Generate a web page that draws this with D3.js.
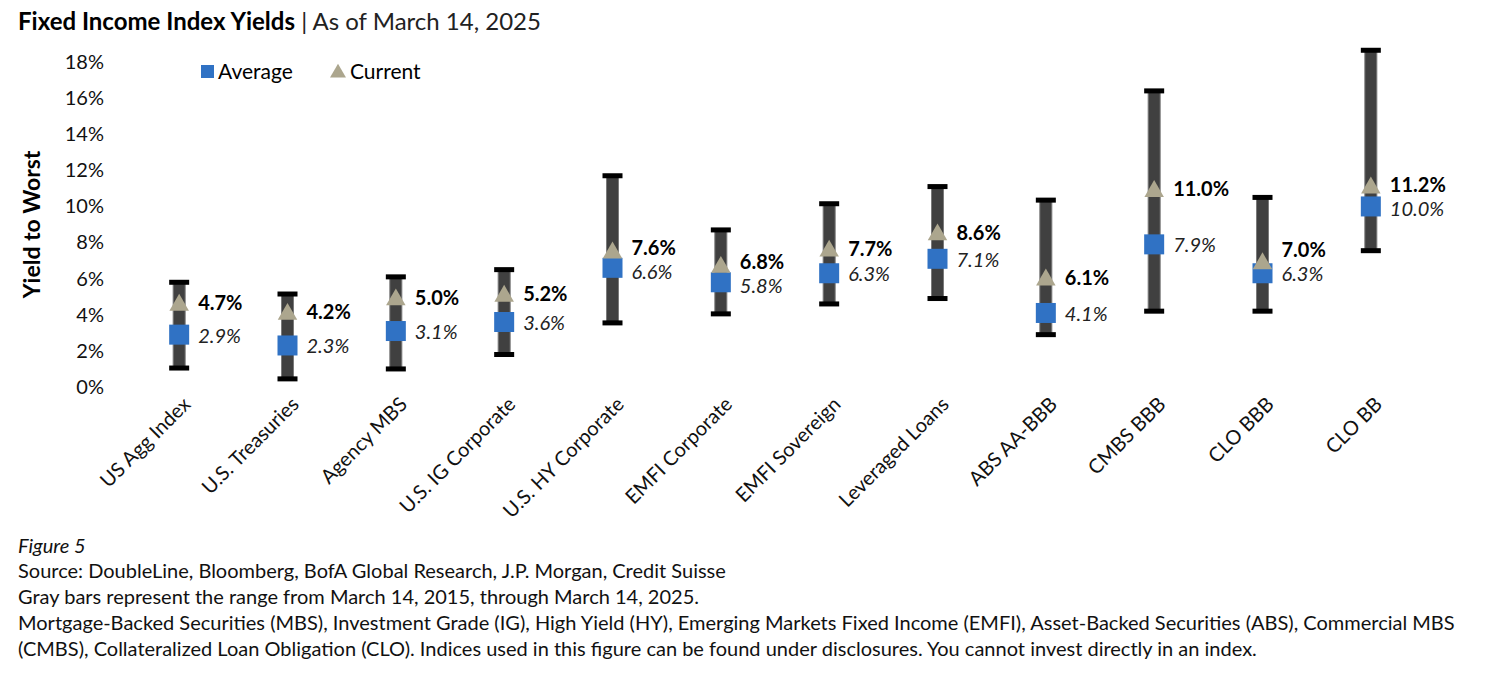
<!DOCTYPE html>
<html>
<head>
<meta charset="utf-8">
<script src="https://cdn.jsdelivr.net/npm/d3@7"></script>
<style>
  body { margin: 0; background: #fff; }
  svg { font-family: Lato, "Open Sans", sans-serif; }
</style>
</head>
<body>
<script>
const categories = ["US Agg Index", "U.S. Treasuries", "Agency MBS", "U.S. IG Corporate",
  "U.S. HY Corporate", "EMFI Corporate", "EMFI Sovereign", "Leveraged Loans",
  "ABS AA-BBB", "CMBS BBB", "CLO BBB", "CLO BB"];
const rangeHigh = [5.8, 5.15, 6.1, 6.5, 11.7, 8.7, 10.15, 11.1, 10.35, 16.4, 10.5, 18.65];
const rangeLow = [1.05, 0.45, 1.0, 1.8, 3.55, 4.05, 4.6, 4.9, 2.9, 4.2, 4.2, 7.55];
const averages = [2.9, 2.3, 3.1, 3.6, 6.6, 5.8, 6.3, 7.1, 4.1, 7.9, 6.3, 10.0];
const currents = [4.7, 4.2, 5.0, 5.2, 7.6, 6.8, 7.7, 8.6, 6.1, 11.0, 7.0, 11.2];
const yTicks = [0, 2, 4, 6, 8, 10, 12, 14, 16, 18];
const footnotes = [
  "Source: DoubleLine, Bloomberg, BofA Global Research, J.P. Morgan, Credit Suisse",
  "Gray bars represent the range from March 14, 2015, through March 14, 2025.",
  "Mortgage-Backed Securities (MBS), Investment Grade (IG), High Yield (HY), Emerging Markets Fixed Income (EMFI), Asset-Backed Securities (ABS), Commercial MBS",
  "(CMBS), Collateralized Loan Obligation (CLO). Indices used in this figure can be found under disclosures. You cannot invest directly in an index."
];

const width = 1490, height = 676;
const margin = ({ top: 62, right: 65, bottom: 289, left: 125 });

const data = categories.map((c, i) => ({
  name: c, lo: rangeLow[i], hi: rangeHigh[i], avg: averages[i], cur: currents[i]
}));

const blue = "#3072c4", tan = "#aca68e";
const fs = 20;

const svg = d3.select("body").append("svg")
  .attr("width", width).attr("height", height)
  .attr("viewBox", [0, 0, width, height]);

const x = d3.scaleBand()
  .domain(categories)
  .range([margin.left, width - margin.right]);

const y = d3.scaleLinear()
  .domain([0, 18])
  .range([height - margin.bottom, margin.top]);

// title
const title = svg.append("text").attr("x", 18).attr("y", 30).attr("font-size", 24);
title.append("tspan").attr("font-weight", "bold").text("Fixed Income Index Yields");
title.append("tspan").attr("fill", "#222").text(" | As of March 14, 2025");

// y axis
const yAxis = g => g
  .attr("transform", `translate(${margin.left - 21},0)`)
  .call(d3.axisLeft(y).tickValues(yTicks).tickFormat(d => d + "%").tickSize(0).tickPadding(0))
  .call(g => g.select(".domain").remove())
  .call(g => g.selectAll("text").attr("font-size", fs).attr("font-family", "Lato, sans-serif").attr("fill", "#111"));
svg.append("g").call(yAxis);

svg.append("text")
  .attr("transform", `translate(40,${(y(0) + y(18)) / 2}) rotate(-90)`)
  .attr("text-anchor", "middle")
  .attr("font-size", 23).attr("font-weight", "bold")
  .text("Yield to Worst");

// x axis labels
const xAxis = g => g
  .attr("transform", `translate(0,${y(0) + 8})`)
  .call(d3.axisBottom(x).tickSize(0).tickPadding(0))
  .call(g => g.select(".domain").remove())
  .call(g => g.selectAll("text")
    .attr("font-size", fs).attr("font-family", "Lato, sans-serif").attr("fill", "#111")
    .attr("text-anchor", "end")
    .attr("dy", "0.75em")
    .attr("transform", "translate(2,0) rotate(-45)"));
svg.append("g").call(xAxis);

const cx = d => x(d.name) + x.bandwidth() / 2;

// range bars
const g = svg.append("g");
g.selectAll("rect.bar").data(data).join("rect")
  .attr("class", "bar")
  .attr("x", d => cx(d) - 6).attr("width", 12)
  .attr("y", d => y(d.hi)).attr("height", d => y(d.lo) - y(d.hi))
  .attr("fill", "#404040").attr("stroke", "#7a7a7a").attr("stroke-width", 1);

g.selectAll("rect.capHi").data(data).join("rect")
  .attr("class", "capHi")
  .attr("x", d => cx(d) - 10).attr("width", 20)
  .attr("y", d => y(d.hi) - 2.5).attr("height", 5)
  .attr("fill", "#000");

g.selectAll("rect.capLo").data(data).join("rect")
  .attr("class", "capLo")
  .attr("x", d => cx(d) - 10).attr("width", 20)
  .attr("y", d => y(d.lo) - 2.5).attr("height", 5)
  .attr("fill", "#000");

// markers
g.selectAll("rect.avg").data(data).join("rect")
  .attr("class", "avg")
  .attr("x", d => cx(d) - 10).attr("width", 20)
  .attr("y", d => y(d.avg) - 10).attr("height", 20)
  .attr("fill", blue);

const tri = d3.symbol().type(d3.symbolTriangle).size(165);
g.selectAll("path.cur").data(data).join("path")
  .attr("class", "cur")
  .attr("transform", d => `translate(${cx(d)},${y(d.cur) + 3})`)
  .attr("d", tri)
  .attr("fill", tan);

// value labels: keep the two labels of a bar apart
const minGap = 24;
const gap = d => y(d.avg) - y(d.cur);
const curLabelY = d => gap(d) < 16 ? y(d.avg) - minGap : (gap(d) < minGap ? y(d.cur) - (minGap - gap(d)) / 2 : y(d.cur));
const avgLabelY = d => gap(d) >= 16 && gap(d) < minGap ? y(d.avg) + (minGap - gap(d)) / 2 : y(d.avg);

g.selectAll("text.curLbl").data(data).join("text")
  .attr("class", "curLbl")
  .attr("x", d => cx(d) + 19).attr("y", d => curLabelY(d) + 1)
  .attr("dy", "0.35em")
  .attr("font-size", fs).attr("font-weight", "bold")
  .text(d => d.cur.toFixed(1) + "%");

g.selectAll("text.avgLbl").data(data).join("text")
  .attr("class", "avgLbl")
  .attr("x", d => cx(d) + 19).attr("y", d => avgLabelY(d) + 1)
  .attr("dy", "0.35em")
  .attr("font-size", fs).attr("font-style", "italic").attr("fill", "#222")
  .text(d => d.avg.toFixed(1) + "%");

// legend
const legend = svg.append("g").attr("font-size", 21);
legend.append("rect").attr("x", 201).attr("y", 65).attr("width", 13).attr("height", 13).attr("fill", blue);
legend.append("text").attr("x", 218).attr("y", 79).text("Average");
legend.append("path")
  .attr("transform", "translate(338,73)")
  .attr("d", d3.symbol().type(d3.symbolTriangle).size(110))
  .attr("fill", tan);
legend.append("text").attr("x", 350).attr("y", 79).text("Current");

// footer
const foot = svg.append("g").attr("font-size", fs).attr("fill", "#111");
foot.append("text").attr("x", 18).attr("y", 553).attr("font-style", "italic").text("Figure 5");
foot.selectAll("text.note").data(footnotes).join("text")
  .attr("class", "note")
  .attr("x", 18).attr("y", (d, i) => 578 + i * 26)
  .text(d => d);
</script>
</body>
</html>
